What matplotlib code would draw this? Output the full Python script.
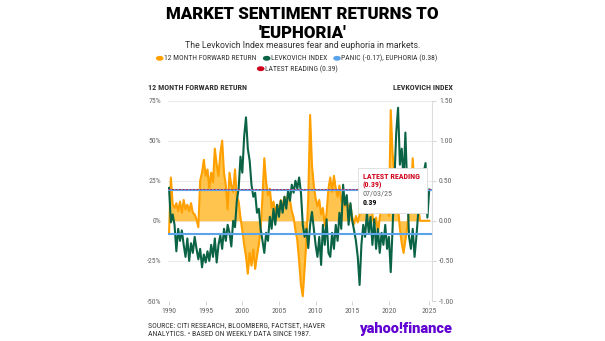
import numpy as np
import matplotlib
matplotlib.use("Agg")
import matplotlib.pyplot as plt
from matplotlib.patches import FancyBboxPatch, Circle

# -----------------------------
# Data (quarterly)
# -----------------------------
years = np.arange(1990.0, 2025.51, 0.25)

fwd_return = [
    -8, 27, 10, 8, 11, 6, 12, 5, 13, 7, 10, 6, 11, 5, 4, 1,            # 1990-1993
    -4, 25, 30, 38, 28, 32, 20, 30, 24, 45, 35, 28, 42, 50, 30, 22,      # 1994-1997
    7, 30, 22, 18, 32, 15, 12, 2, -6, -15, -22, -33, -20, -28, -18, -30,  # 1998-2001
    -22, -15, -5, 15, 39, 24, 16, 20, 8, 12, 5, 10, 7, 13, 9, 15,       # 2002-2005
    11, 17, 13, 6, 2, -6, -12, -25, -40, -47, -30, -12, 15, 66, 35, 22,  # 2006-2009
    14, 9, 13, 4, 8, -3, 5, 20, 27, 18, 28, 20, 15, 22, 12, 16,          # 2010-2013
    9, 13, 7, 10, 2, -2, 3, -1, 4, 12, 16, 11, 15, 9, 13, 4,             # 2014-2017
    -3, 2, -8, 2, 9, 11, 8, 12, 3, 69, 42, 30, 20, 8, -5, -14,           # 2018-2021
    -20, -12, -4, 6, 14, 39, 18, 12, 9, 0, 0, 0, 0, 0, 0,                # 2022-2025.5
]

levkovich = [
    0.41, -0.02, 0.08, -0.05, -0.38, -0.10, -0.25, -0.12,
    -0.30, -0.45, -0.22, -0.50, -0.28, -0.40, -0.20, -0.35,
    -0.48, -0.35, -0.58, -0.42, -0.52, -0.38, -0.50, -0.30,
    -0.45, -0.22, -0.52, -0.30, -0.18, -0.35, -0.10, -0.25,
    -0.05, -0.15, -0.32, 0.00, -0.08, 0.25, 0.40, 0.80,
    0.60, 1.05, 1.29, 0.90, 0.75, 0.45, 0.30, 0.35,
    0.10, 0.15, -0.10, -0.25, -0.40, -0.15, -0.25, 0.05,
    -0.10, 0.15, -0.05, 0.20, 0.05, 0.25, 0.10, 0.30,
    0.15, 0.38, 0.25, 0.45, 0.35, 0.50, 0.40, 0.54,
    0.35, -0.05, -0.20, -0.10, -0.34, -0.05, 0.11, -0.10,
    -0.30, -0.45, -0.20, -0.55, -0.05, -0.30, 0.02, -0.40,
    -0.45, -0.15, -0.35, -0.05, -0.25, 0.10, -0.10, 0.45,
    0.20, 0.32, -0.05, 0.22, 0.00, -0.12, -0.25, -0.45,
    -0.80, -0.30, -0.05, -0.20, 0.10, -0.15, 0.05, -0.30,
    0.02, -0.35, -0.10, -0.40, -0.15, -0.30, -0.05, -0.35,
    -0.20, -0.64, -0.10, 0.50, 1.10, 1.41, 0.70, 0.90,
    0.50, 1.10, 0.40, -0.20, -0.35, -0.10, -0.45, -0.20,
    0.10, 0.45, 0.30, 0.60, 0.72, 0.04, 0.39,
]

panic_level = -0.17
euphoria_level = 0.38
latest_level = 0.39
latest_date = "07/03/25"

year_ticks = [1990, 1995, 2000, 2005, 2010, 2015, 2020, 2025.5]
year_labels = ["1990", "1995", "2000", "2005", "2010", "2015", "2020", "2025"]
ret_ticks = [-50, -25, 0, 25, 50, 75]
lev_ticks = [-1.0, -0.5, 0.0, 0.5, 1.0, 1.5]

ORANGE = "#ffa000"
FILL = "#ffc44d"
GREEN = "#0b6346"
BLUE = "#5da3ea"
RED = "#d0021b"
GREY = "#666666"
DARK = "#333333"

COND = ["Roboto Condensed", "DejaVu Sans"]
HEAVY = ["Roboto", "DejaVu Sans"]

# -----------------------------
# Figure
# -----------------------------
W, H = 605, 341
fig = plt.figure(figsize=(W / 100, H / 100), dpi=100)

def fx(px):
    return px / W

def fy(py):
    return 1 - py / H

ax = fig.add_axes([fx(168), fy(301), fx(432) - fx(168), fy(100.5) - fy(301)])
ax.set_xlim(1989.86, 2025.88)
ax.set_ylim(-50, 75)

ax.fill_between(years, fwd_return, 0, color=FILL, lw=0, zorder=1)
ax.plot(years, fwd_return, color=ORANGE, lw=1.5, zorder=2)

ax.set_yticks(ret_ticks)
ax.set_yticklabels([f"{t}%" for t in ret_ticks], color=GREY, fontsize=5.6, family=COND)
ax.yaxis.grid(True, color="#ebebeb", lw=0.8)
ax.set_axisbelow(True)
ax.tick_params(axis="y", length=0, pad=5)
ax.set_xticks(year_ticks)
ax.set_xticklabels(year_labels, color=GREY, fontsize=5.6, family=COND)
ax.tick_params(axis="x", length=3, color="#cccccc", width=0.6, pad=2)
for s in ax.spines.values():
    s.set_visible(False)

ax2 = ax.twinx()
ax2.set_ylim(-1, 1.5)
ax2.plot(years, levkovich, color=GREEN, lw=1.5, zorder=3)
ax2.axhline(panic_level, color=BLUE, lw=1.5, zorder=4)
ax2.axhline(euphoria_level, color=BLUE, lw=1.5, zorder=4)
ax2.axhline(latest_level + 0.006, color=RED, lw=0.5, ls=(0, (3, 2)), zorder=5)
ax2.set_yticks(lev_ticks)
ax2.set_yticklabels([f"{t:.2f}" for t in lev_ticks], color=GREY, fontsize=5.6, family=COND)
ax2.tick_params(axis="y", length=3, color="#cccccc", width=0.6, pad=2)
for k, s in ax2.spines.items():
    s.set_visible(k == "right")
ax2.spines["right"].set_color("#dddddd")
ax2.spines["right"].set_linewidth(0.8)

# -----------------------------
# Titles, legend, axis captions
# -----------------------------
fig.text(0.5, fy(14), "MARKET SENTIMENT RETURNS TO", ha="center", va="center",
         fontsize=12.2, weight="heavy", family=HEAVY, color="black")
fig.text(0.5, fy(33), "'EUPHORIA'", ha="center", va="center",
         fontsize=12.2, weight="heavy", family=HEAVY, color="black")
fig.text(0.5, fy(45.5), "The Levkovich Index measures fear and euphoria in markets.",
         ha="center", va="center", fontsize=6.3, family=HEAVY, color=DARK)

legend_items = [
    (159.7, 58.3, ORANGE, "12 MONTH FORWARD RETURN"),
    (266.7, 58.3, GREEN, "LEVKOVICH INDEX"),
    (337.0, 58.3, BLUE, "PANIC (-0.17), EUPHORIA (0.38)"),
    (260.7, 68.7, RED, "LATEST READING (0.39)"),
]
for px, py, c, label in legend_items:
    fig.patches.append(Circle((fx(px), fy(py)), 3.1 / W, transform=fig.transFigure,
                              color=c, figure=fig))
    fig.text(fx(px + 4.3), fy(py), label, ha="left", va="center", fontsize=5.5,
             family=COND, color=DARK)

fig.text(fx(148), fy(87.5), "12 MONTH FORWARD RETURN", ha="left", va="center",
         fontsize=5.8, weight="bold", family=COND, color=DARK)
fig.text(fx(453), fy(87.5), "LEVKOVICH INDEX", ha="right", va="center",
         fontsize=5.8, weight="bold", family=COND, color=DARK)

# -----------------------------
# Latest reading tooltip
# -----------------------------
box = FancyBboxPatch((fx(358), fy(213)), fx(427) - fx(358), fy(168) - fy(213),
                     boxstyle="square,pad=0", transform=fig.transFigure,
                     facecolor="white", edgecolor="#dddddd", lw=0.6, zorder=10)
fig.patches.append(box)
fig.text(fx(362.7), fy(176.7), "LATEST READING", color=RED, fontsize=5.8, weight="bold",
         family=COND, va="center", zorder=11)
fig.text(fx(362.7), fy(184.9), f"({latest_level:.2f})", color=RED, fontsize=5.8, weight="bold",
         family=COND, va="center", zorder=11)
fig.text(fx(362.7), fy(193.7), latest_date, color=GREY, fontsize=5.8,
         family=COND, va="center", zorder=11)
fig.text(fx(362.7), fy(202.7), f"{latest_level:.2f}", color="black", fontsize=5.8, weight="bold",
         family=COND, va="center", zorder=11)

# -----------------------------
# Footer
# -----------------------------
fig.text(fx(148), fy(325), "SOURCE: CITI RESEARCH, BLOOMBERG, FACTSET, HAVER", ha="left",
         va="center", fontsize=5.6, family=COND, color=DARK)
fig.text(fx(148), fy(333.5), "ANALYTICS. \u2022 BASED ON WEEKLY DATA SINCE 1987.", ha="left",
         va="center", fontsize=5.6, family=COND, color=DARK)
fig.text(fx(452), fy(328.5), "yahoo!finance", ha="right", va="center", fontsize=10.5,
         weight="heavy", family=HEAVY, color="#6001d2")

fig.savefig("out.png", dpi=100)
